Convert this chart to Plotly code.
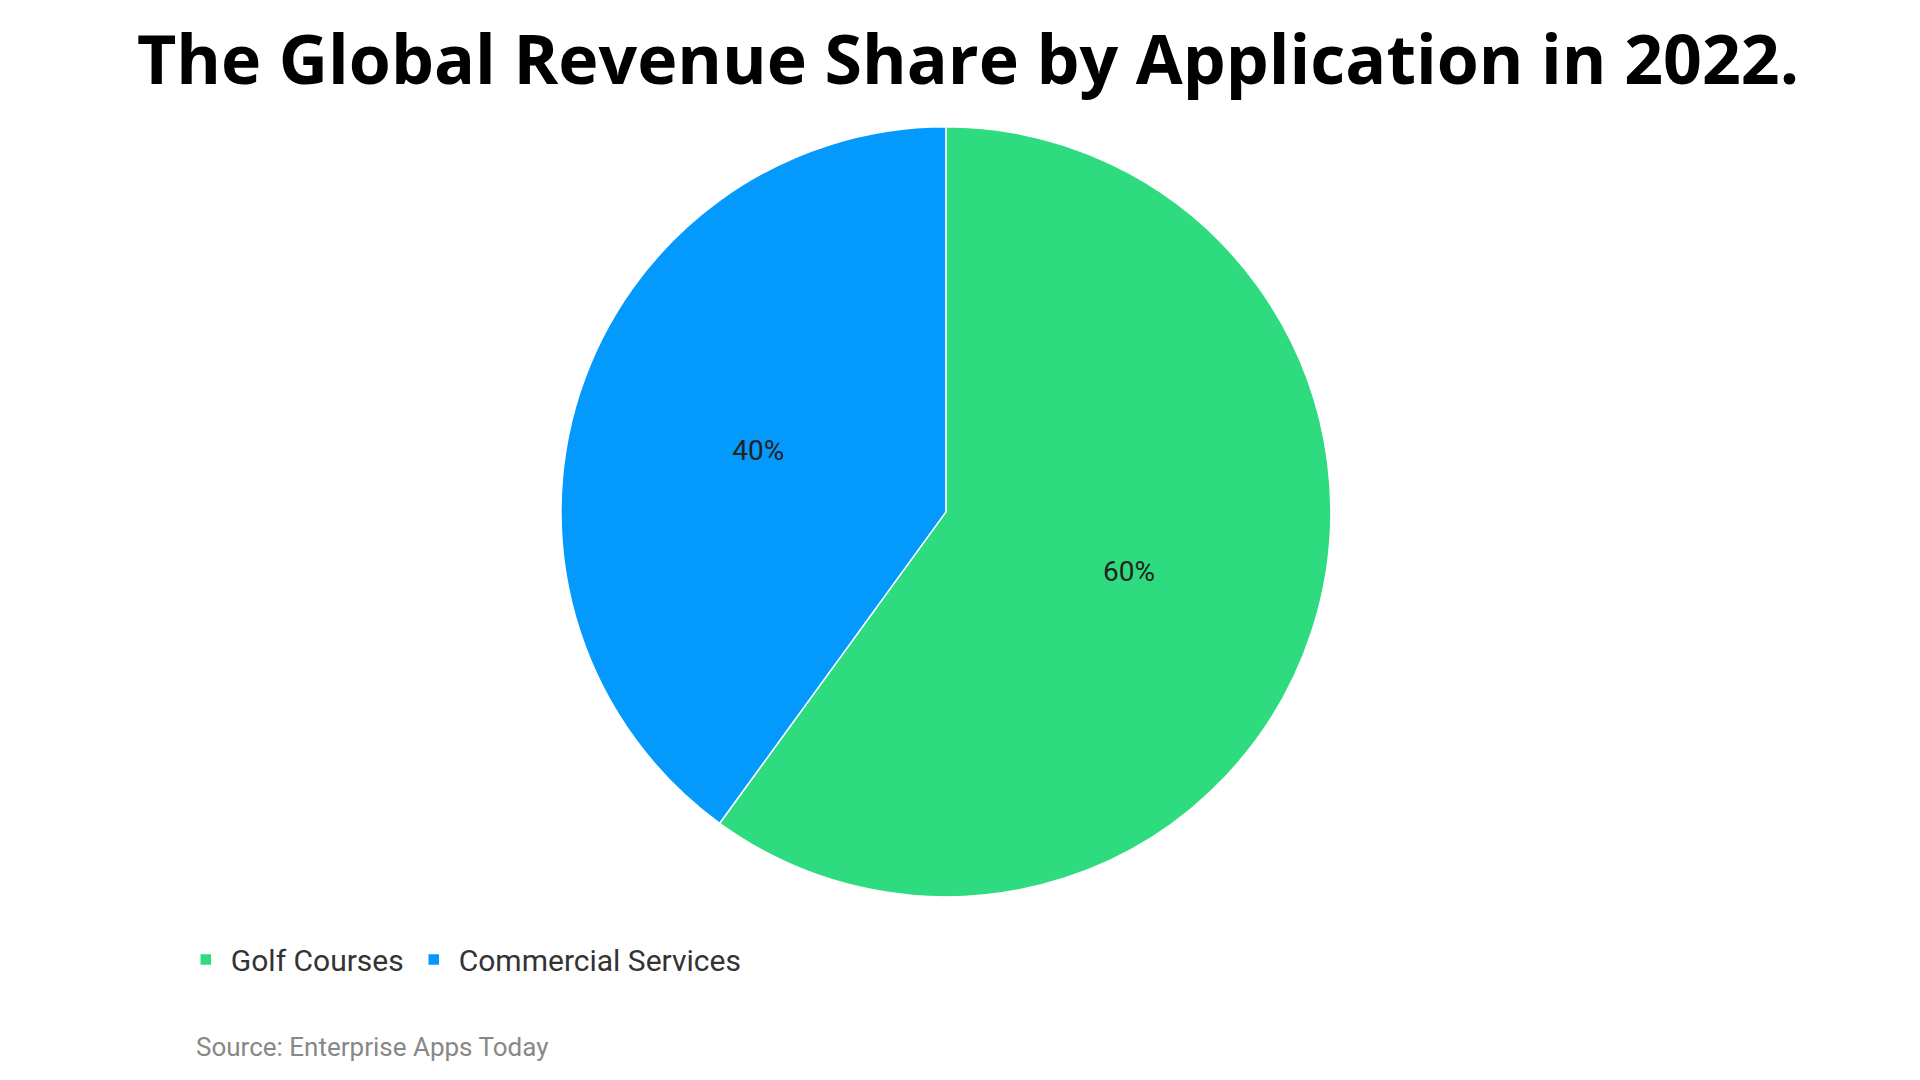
import plotly.graph_objects as go

labels = ["Golf Courses", "Commercial Services"]
values = [60, 40]
colors = ["#2edb7e", "#0399fd"]

fig = go.Figure(go.Pie(
    labels=labels, values=values, sort=False, direction="clockwise", rotation=0,
    marker=dict(colors=colors, line=dict(color="white", width=1.5)),
    textinfo="percent", textposition="inside", insidetextorientation="horizontal",
    textfont=dict(family="Roboto", size=28, color="#222"),
    domain=dict(x=[0.288, 0.689], y=[0.177, 0.890]),
))
fig.update_layout(
    width=1920, height=1080, margin=dict(l=0, r=0, t=0, b=0),
    paper_bgcolor="white", plot_bgcolor="white",
    title=dict(text="<b>The Global Revenue Share by Application in 2022.</b>",
               x=0.5, xanchor="center", y=0.952, yanchor="middle",
               font=dict(family="Open Sans", size=68, color="black")),
    legend=dict(orientation="h", x=0.09, xanchor="left", y=0.119, yanchor="middle",
                font=dict(family="Roboto", size=30, color="#333"), itemwidth=40),
    annotations=[dict(text="Source: Enterprise Apps Today", x=0.097, xanchor="left",
                      y=0.038, yanchor="middle", xref="paper", yref="paper", showarrow=False,
                      font=dict(family="Roboto", size=26, color="#888"))],
)
fig.write_html("out.html")
